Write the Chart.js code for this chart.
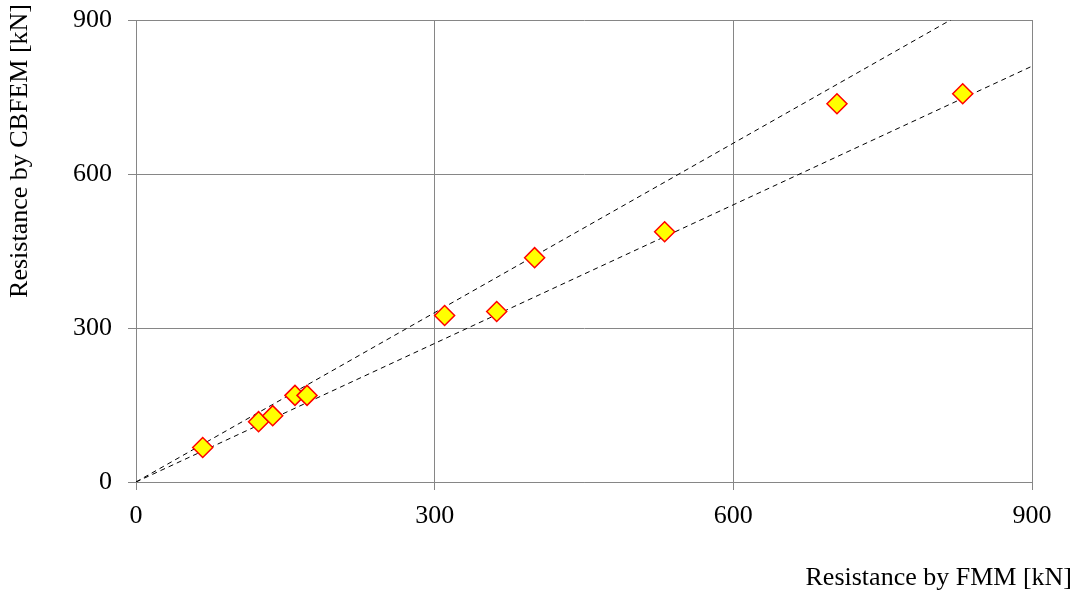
<!DOCTYPE html>
<html>
<head>
<meta charset="utf-8">
<script src="https://cdn.jsdelivr.net/npm/chart.js@4/dist/chart.umd.min.js"></script>
<style>
  html, body { margin: 0; padding: 0; background: #fff; }
  #wrap { width: 1075px; height: 597px; position: relative; }
</style>
</head>
<body>
<div id="wrap"><canvas id="c" width="1075" height="597"></canvas></div>
<script>
// Data
const fmmValues = [67.0, 123.1, 137.3, 159.7, 171.8, 310.0, 362.3, 400.4, 531.0, 704.1, 830.4];
const cbfemValues = [67.2, 117.5, 129.2, 168.7, 168.7, 324.4, 332.2, 437.0, 487.6, 736.9, 756.4];
const upperLine = [[0, 0], [900, 990]];   // +10 % line
const lowerLine = [[0, 0], [900, 810]];   // -10 % line
const tickValues = [0, 300, 600, 900];
const xTitle = 'Resistance by FMM [kN]';
const yTitle = 'Resistance by CBFEM [kN]';

const FONT = '"Liberation Serif", "DejaVu Serif", serif';
const FS = 26;

const points = fmmValues.map((x, i) => ({ x: x, y: cbfemValues[i] }));
const toXY = arr => arr.map(p => ({ x: p[0], y: p[1] }));

const titlePlugin = {
  id: 'axisTitles',
  afterDraw(chart) {
    const ctx = chart.ctx;
    ctx.save();
    ctx.fillStyle = '#000';
    ctx.font = FS + 'px ' + FONT;
    ctx.textAlign = 'right';
    ctx.textBaseline = 'alphabetic';
    ctx.fillText(xTitle, 1072, 585);
    ctx.translate(27, 4);
    ctx.rotate(-Math.PI / 2);
    ctx.textAlign = 'right';
    ctx.fillText(yTitle, 0, 0);
    ctx.restore();
  }
};

new Chart(document.getElementById('c'), {
  type: 'scatter',
  data: {
    datasets: [
      {
        label: 'data',
        data: points,
        pointStyle: 'rectRot',
        pointRadius: 10,
        pointHoverRadius: 10,
        backgroundColor: '#ffff00',
        borderColor: '#ff0000',
        borderWidth: 1.5,
        order: 0
      },
      {
        label: 'upper',
        type: 'line',
        data: toXY(upperLine),
        borderColor: '#000',
        borderWidth: 1,
        borderDash: [5, 4],
        pointRadius: 0,
        fill: false,
        order: 1
      },
      {
        label: 'lower',
        type: 'line',
        data: toXY(lowerLine),
        borderColor: '#000',
        borderWidth: 1,
        borderDash: [5, 4],
        pointRadius: 0,
        fill: false,
        order: 1
      }
    ]
  },
  options: {
    responsive: false,
    animation: false,
    devicePixelRatio: 1,
    layout: { padding: { top: 20, right: 43, left: 0, bottom: 0 } },
    plugins: {
      legend: { display: false },
      tooltip: { enabled: false }
    },
    scales: {
      x: {
        type: 'linear',
        min: 0, max: 900,
        afterBuildTicks(scale) { scale.ticks = tickValues.map(v => ({ value: v })); },
        afterFit(scale) { scale.height = 115; scale.paddingLeft = 0; scale.paddingRight = 0; },
        grid: { color: '#868686', lineWidth: 1, tickLength: 8, drawTicks: true },
        border: { color: '#868686', width: 1 },
        ticks: { color: '#000', font: { family: FONT, size: FS }, padding: 11, maxRotation: 0 }
      },
      y: {
        type: 'linear',
        min: 0, max: 900,
        afterBuildTicks(scale) { scale.ticks = tickValues.map(v => ({ value: v })); },
        afterFit(scale) { scale.width = 136; scale.paddingTop = 0; scale.paddingBottom = 0; },
        grid: { color: '#868686', lineWidth: 1, tickLength: 8, drawTicks: true },
        border: { color: '#868686', width: 1 },
        ticks: { color: '#000', font: { family: FONT, size: FS }, padding: 16 }
      }
    }
  },
  plugins: [titlePlugin]
});
</script>
</body>
</html>
